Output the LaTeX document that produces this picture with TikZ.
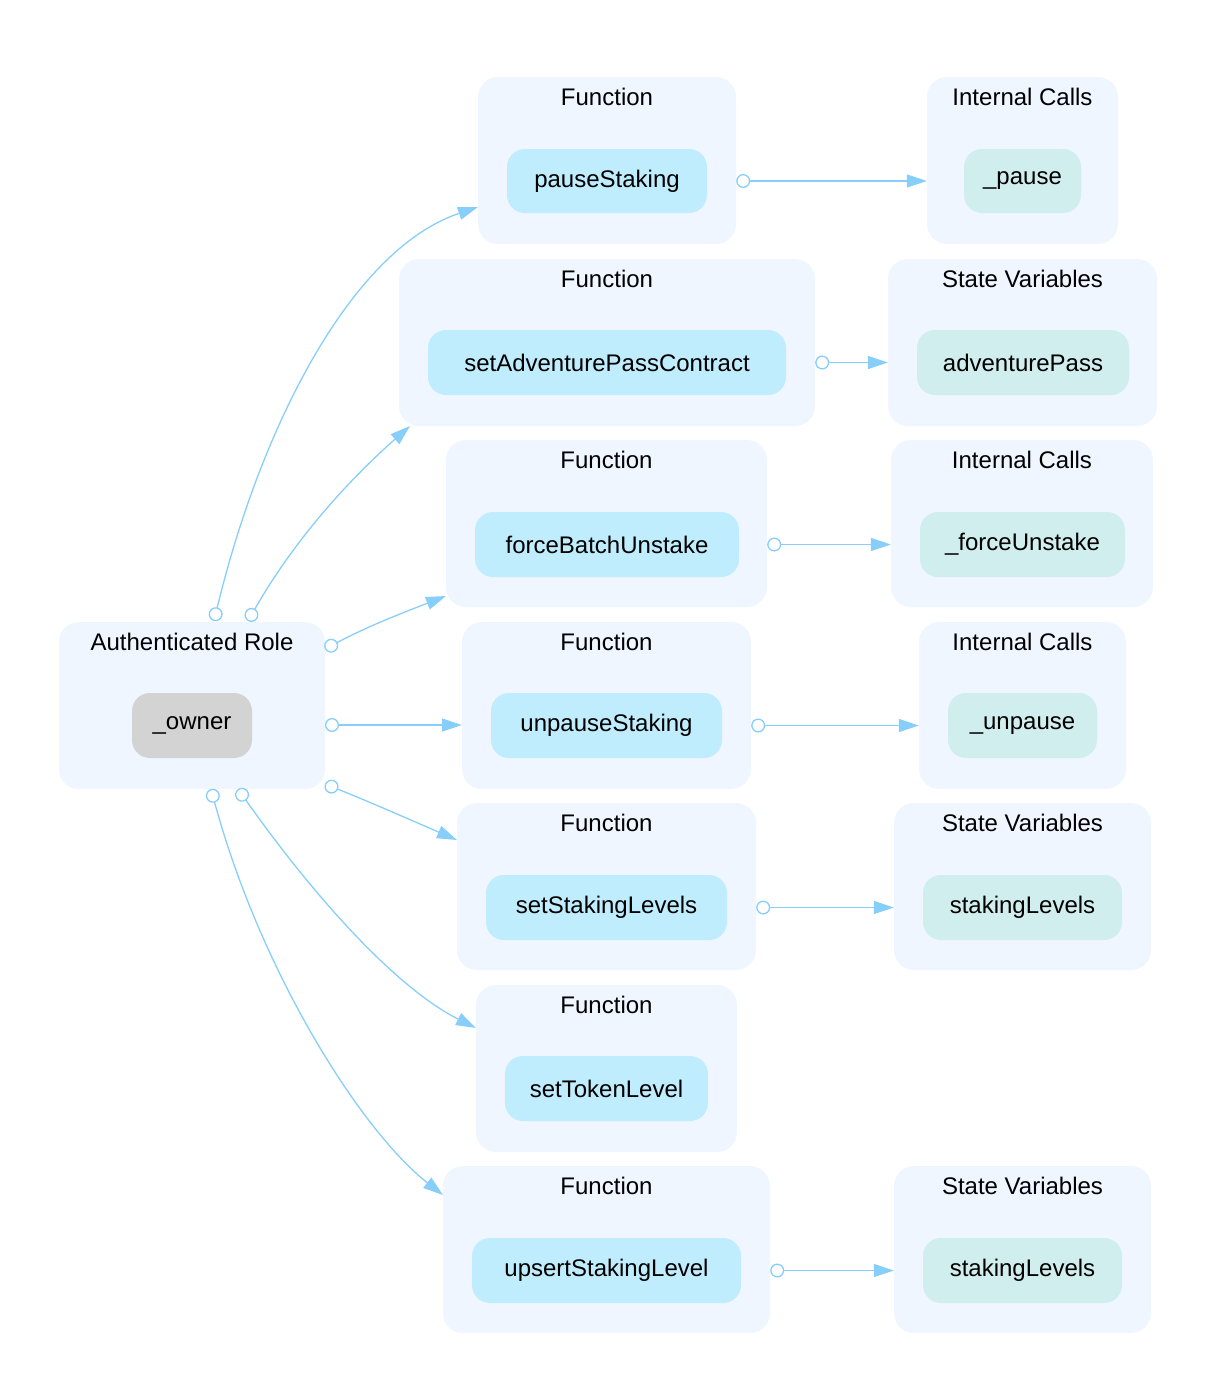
\documentclass[tikz,border=0pt]{standalone}
\usepackage{fontspec}
\setmainfont{Liberation Sans}
\usetikzlibrary{arrows.meta}
\definecolor{clfill}{HTML}{EFF6FF}
\definecolor{fnfill}{HTML}{BFEDFD}
\definecolor{svfill}{HTML}{D1EEEE}
\definecolor{ownfill}{HTML}{D3D3D3}
\definecolor{edge}{HTML}{87CEFA}
\tikzset{
 clu/.style={fill=clfill,draw=none,rounded corners=20pt,inner sep=0},
 box/.style={draw=none,rounded corners=18pt,inner sep=0,font=\fontsize{24}{28}\selectfont},
 ttl/.style={font=\fontsize{24}{28}\selectfont,anchor=center},
 e/.style={draw=edge,line width=1.3pt,{Circle[open,fill=white,length=14pt,width=14pt]}-{Triangle[length=20pt,width=13pt]}}
}
\newcommand{\clu}[6]{%
 \node[clu,minimum width={(#4-#2)*1pt},minimum height={(#5-#3)*1pt}] (#1) at ({(#2+#4)/2},{-(#3+#5)/2}) {};
 \node[ttl] (#1t) at ({(#2+#4)/2},{-#3-20}) {#6};}
\newcommand{\bx}[7]{%
 \node[box,fill=#7,minimum width={(#4-#2)*1pt},minimum height={(#5-#3)*1pt}] (#1) at ({(#2+#4)/2},{-(#3+#5)/2}) {#6};}
\begin{document}
\begin{tikzpicture}[x=1pt,y=1pt]
\useasboundingbox (0,0) rectangle (1216,-1384);
\clu{c1}{478}{77}{736}{244}{Function}
\bx{f1}{507}{149}{707}{213}{pauseStaking}{fnfill}
\clu{d1}{927}{77}{1118}{244}{Internal Calls}
\bx{g1}{964}{149}{1081}{213}{\_pause}{svfill}
\clu{c2}{399}{259}{815}{426}{Function}
\bx{f2}{428}{330}{786}{395}{setAdventurePassContract}{fnfill}
\clu{d2}{888}{259}{1157}{426}{State Variables}
\bx{g2}{917}{330}{1129}{395}{adventurePass}{svfill}
\clu{c3}{446}{440}{767}{607}{Function}
\bx{f3}{475}{512}{739}{577}{forceBatchUnstake}{fnfill}
\clu{d3}{891}{440}{1153}{607}{Internal Calls}
\bx{g3}{920}{512}{1125}{577}{\_forceUnstake}{svfill}
\clu{a}{59}{622}{325}{789}{Authenticated Role}
\bx{own}{132}{693}{252}{758}{\_owner}{ownfill}
\clu{c4}{462}{622}{751}{789}{Function}
\bx{f4}{491}{693}{722}{758}{unpauseStaking}{fnfill}
\clu{d4}{919}{622}{1126}{789}{Internal Calls}
\bx{g4}{948}{693}{1097}{758}{\_unpause}{svfill}
\clu{c5}{457}{803}{756}{970}{Function}
\bx{f5}{486}{875}{727}{940}{setStakingLevels}{fnfill}
\clu{d5}{894}{803}{1151}{970}{State Variables}
\bx{g5}{923}{875}{1122}{940}{stakingLevels}{svfill}
\clu{c6}{476}{985}{737}{1152}{Function}
\bx{f6}{505}{1056}{708}{1121}{setTokenLevel}{fnfill}
\clu{c7}{443}{1166}{770}{1333}{Function}
\bx{f7}{472}{1238}{741}{1303}{upsertStakingLevel}{fnfill}
\clu{d7}{894}{1166}{1151}{1333}{State Variables}
\bx{g7}{923}{1238}{1122}{1303}{stakingLevels}{svfill}
% anchor coordinates
\coordinate (s1) at (214,-621); \coordinate (t1) at (478,-207);
\coordinate (s2) at (248,-621); \coordinate (t2) at (410,-426);
\coordinate (s3) at (325,-649); \coordinate (t3) at (446,-596);
\coordinate (s4) at (325,-725); \coordinate (t4) at (462,-725);
\coordinate (s5) at (325,-784); \coordinate (t5) at (457,-840);
\coordinate (s6) at (238,-789); \coordinate (t6) at (476,-1028);
\coordinate (s7) at (211,-789); \coordinate (t7) at (443,-1195);
\draw[e] (s1) .. controls (260,-430) and (350,-250) .. (t1);
\draw[e] (s2) .. controls (300,-530) and (360,-470) .. (t2);
\draw[e] (s3) .. controls (370,-625) and (410,-610) .. (t3);
\draw[e] (s4) -- (t4);
\draw[e] (s5) .. controls (370,-802) and (420,-824) .. (t5);
\draw[e] (s6) .. controls (320,-905) and (400,-990) .. (t6);
\draw[e] (s7) .. controls (260,-970) and (360,-1130) .. (t7);
\draw[e] (c1.east|-f1) -- (d1.west|-g1);
\draw[e] (c2.east|-f2) -- (d2.west|-g2);
\draw[e] (c3.east|-f3) -- (d3.west|-g3);
\draw[e] (c4.east|-f4) -- (d4.west|-g4);
\draw[e] (c5.east|-f5) -- (d5.west|-g5);
\draw[e] (c7.east|-f7) -- (d7.west|-g7);
\end{tikzpicture}
\end{document}
